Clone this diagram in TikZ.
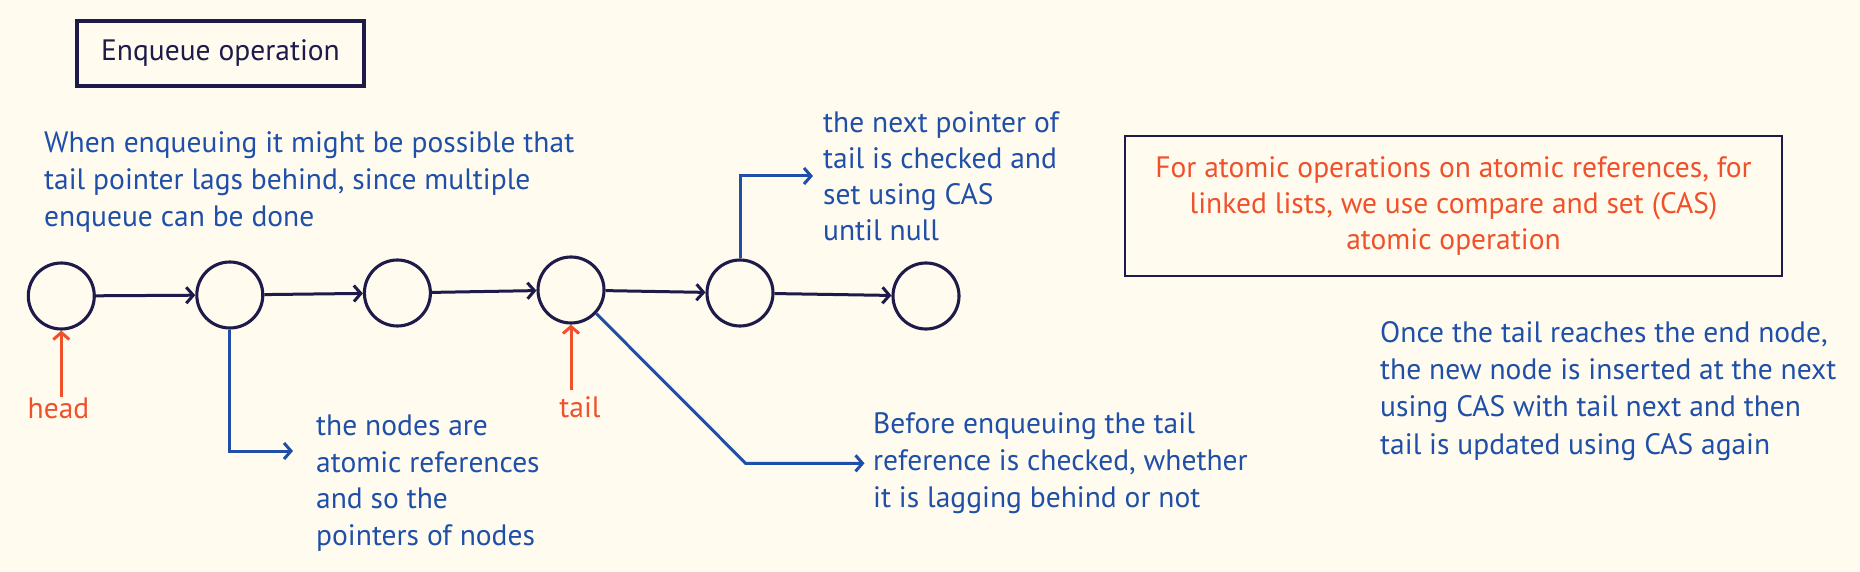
\documentclass[tikz,border=0pt]{standalone}
\usepackage{fontspec}
\setmainfont{PT Sans}
\usetikzlibrary{arrows.meta}
\definecolor{bgc}{HTML}{FFFCEF}
\definecolor{navy}{HTML}{1E1A4A}
\definecolor{bluet}{HTML}{1F4FA8}
\definecolor{redt}{HTML}{F0502A}
\tikzset{
  lnode/.style={circle, draw=navy, line width=3.1pt, minimum size=66pt, inner sep=0pt},
  navyarrow/.style={draw=navy, line width=3pt, -{Straight Barb[length=7pt,width=16pt]}},
  bluearrow/.style={draw=bluet, line width=3pt, -{Straight Barb[length=7pt,width=16pt]}},
  redarrow/.style={draw=redt, line width=3pt, -{Straight Barb[length=7pt,width=16pt]}},
  bluetext/.style={text=bluet, font=\fontsize{29.5}{36.7}\selectfont, align=left, anchor=west, inner sep=0pt},
  redlabel/.style={text=redt, font=\fontsize{29.5}{30}\selectfont, inner sep=0pt},
}
\begin{document}
\begin{tikzpicture}[x=1pt,y=-1pt]
\fill[bgc] (0,0) rectangle (1860,572);
\useasboundingbox (0,0) rectangle (1860,572);

% title box
\node[draw=navy, line width=3.4pt, minimum width=287pt, minimum height=65pt, inner sep=0pt,
      text=navy, font=\fontsize{29.5}{30}\selectfont] (title) at (220.5,53.5) {Enqueue operation};

% text blocks
\node[bluetext] (txt1) at (44,182) {When enqueuing it might be possible that\\tail pointer lags behind, since multiple\\enqueue can be done};
\node[bluetext] (txt2) at (316,483) {the nodes are\\atomic references\\and so the\\pointers of nodes};
\node[bluetext, font=\fontsize{29.5}{36}\selectfont] (txt3) at (823,176) {the next pointer of\\tail is checked and\\set using CAS\\until null};
\node[bluetext] (txt4) at (873,463.3) {Before enqueuing the tail\\reference is checked, whether\\it is lagging behind or not};
\node[bluetext, font=\fontsize{29.5}{37.2}\selectfont] (txt5) at (1380,391) {Once the tail reaches the end node,\\the new node is inserted at the next\\using CAS with tail next and then\\tail is updated using CAS again};

% red box
\node[draw=navy, line width=2.6pt, minimum width=657pt, minimum height=140pt, inner sep=0pt,
      text=redt, align=center, font=\fontsize{29.5}{36}\selectfont] (cas) at (1453.5,206)
      {For atomic operations on atomic references, for\\linked lists, we use compare and set (CAS)\\atomic operation};

% list nodes
\node[lnode] (C1) at (61.3,296) {};
\node[lnode] (C2) at (229.8,295) {};
\node[lnode] (C3) at (397.4,293) {};
\node[lnode] (C4) at (571,290) {};
\node[lnode] (C5) at (740,293) {};
\node[lnode] (C6) at (926,296) {};

\draw[navyarrow] (C1) -- (C2);
\draw[navyarrow] (C2) -- (C3);
\draw[navyarrow] (C3) -- (C4);
\draw[navyarrow] (C4) -- (C5);
\draw[navyarrow] (C5) -- (C6);

% head / tail labels
\node[redlabel] (head) at (58.5,408) {head};
\node[redlabel] (tail) at (580,407) {tail};
\draw[redarrow] (C1.south |- 0,397) -- (C1.south);
\draw[redarrow] (C4.south |- 0,390) -- (C4.south);

% annotation connectors
\coordinate (a1) at (293,451);
\draw[bluearrow] (C2.south) |- (a1);
\coordinate (a2) at (813,176);
\draw[bluearrow] (C5.north) |- (a2);
\coordinate (b1) at (745.6,463.3);
\coordinate (b2) at (864.5,463.3);
\draw[bluearrow] (C4.-43) -- (b1) -- (b2);
\end{tikzpicture}
\end{document}
